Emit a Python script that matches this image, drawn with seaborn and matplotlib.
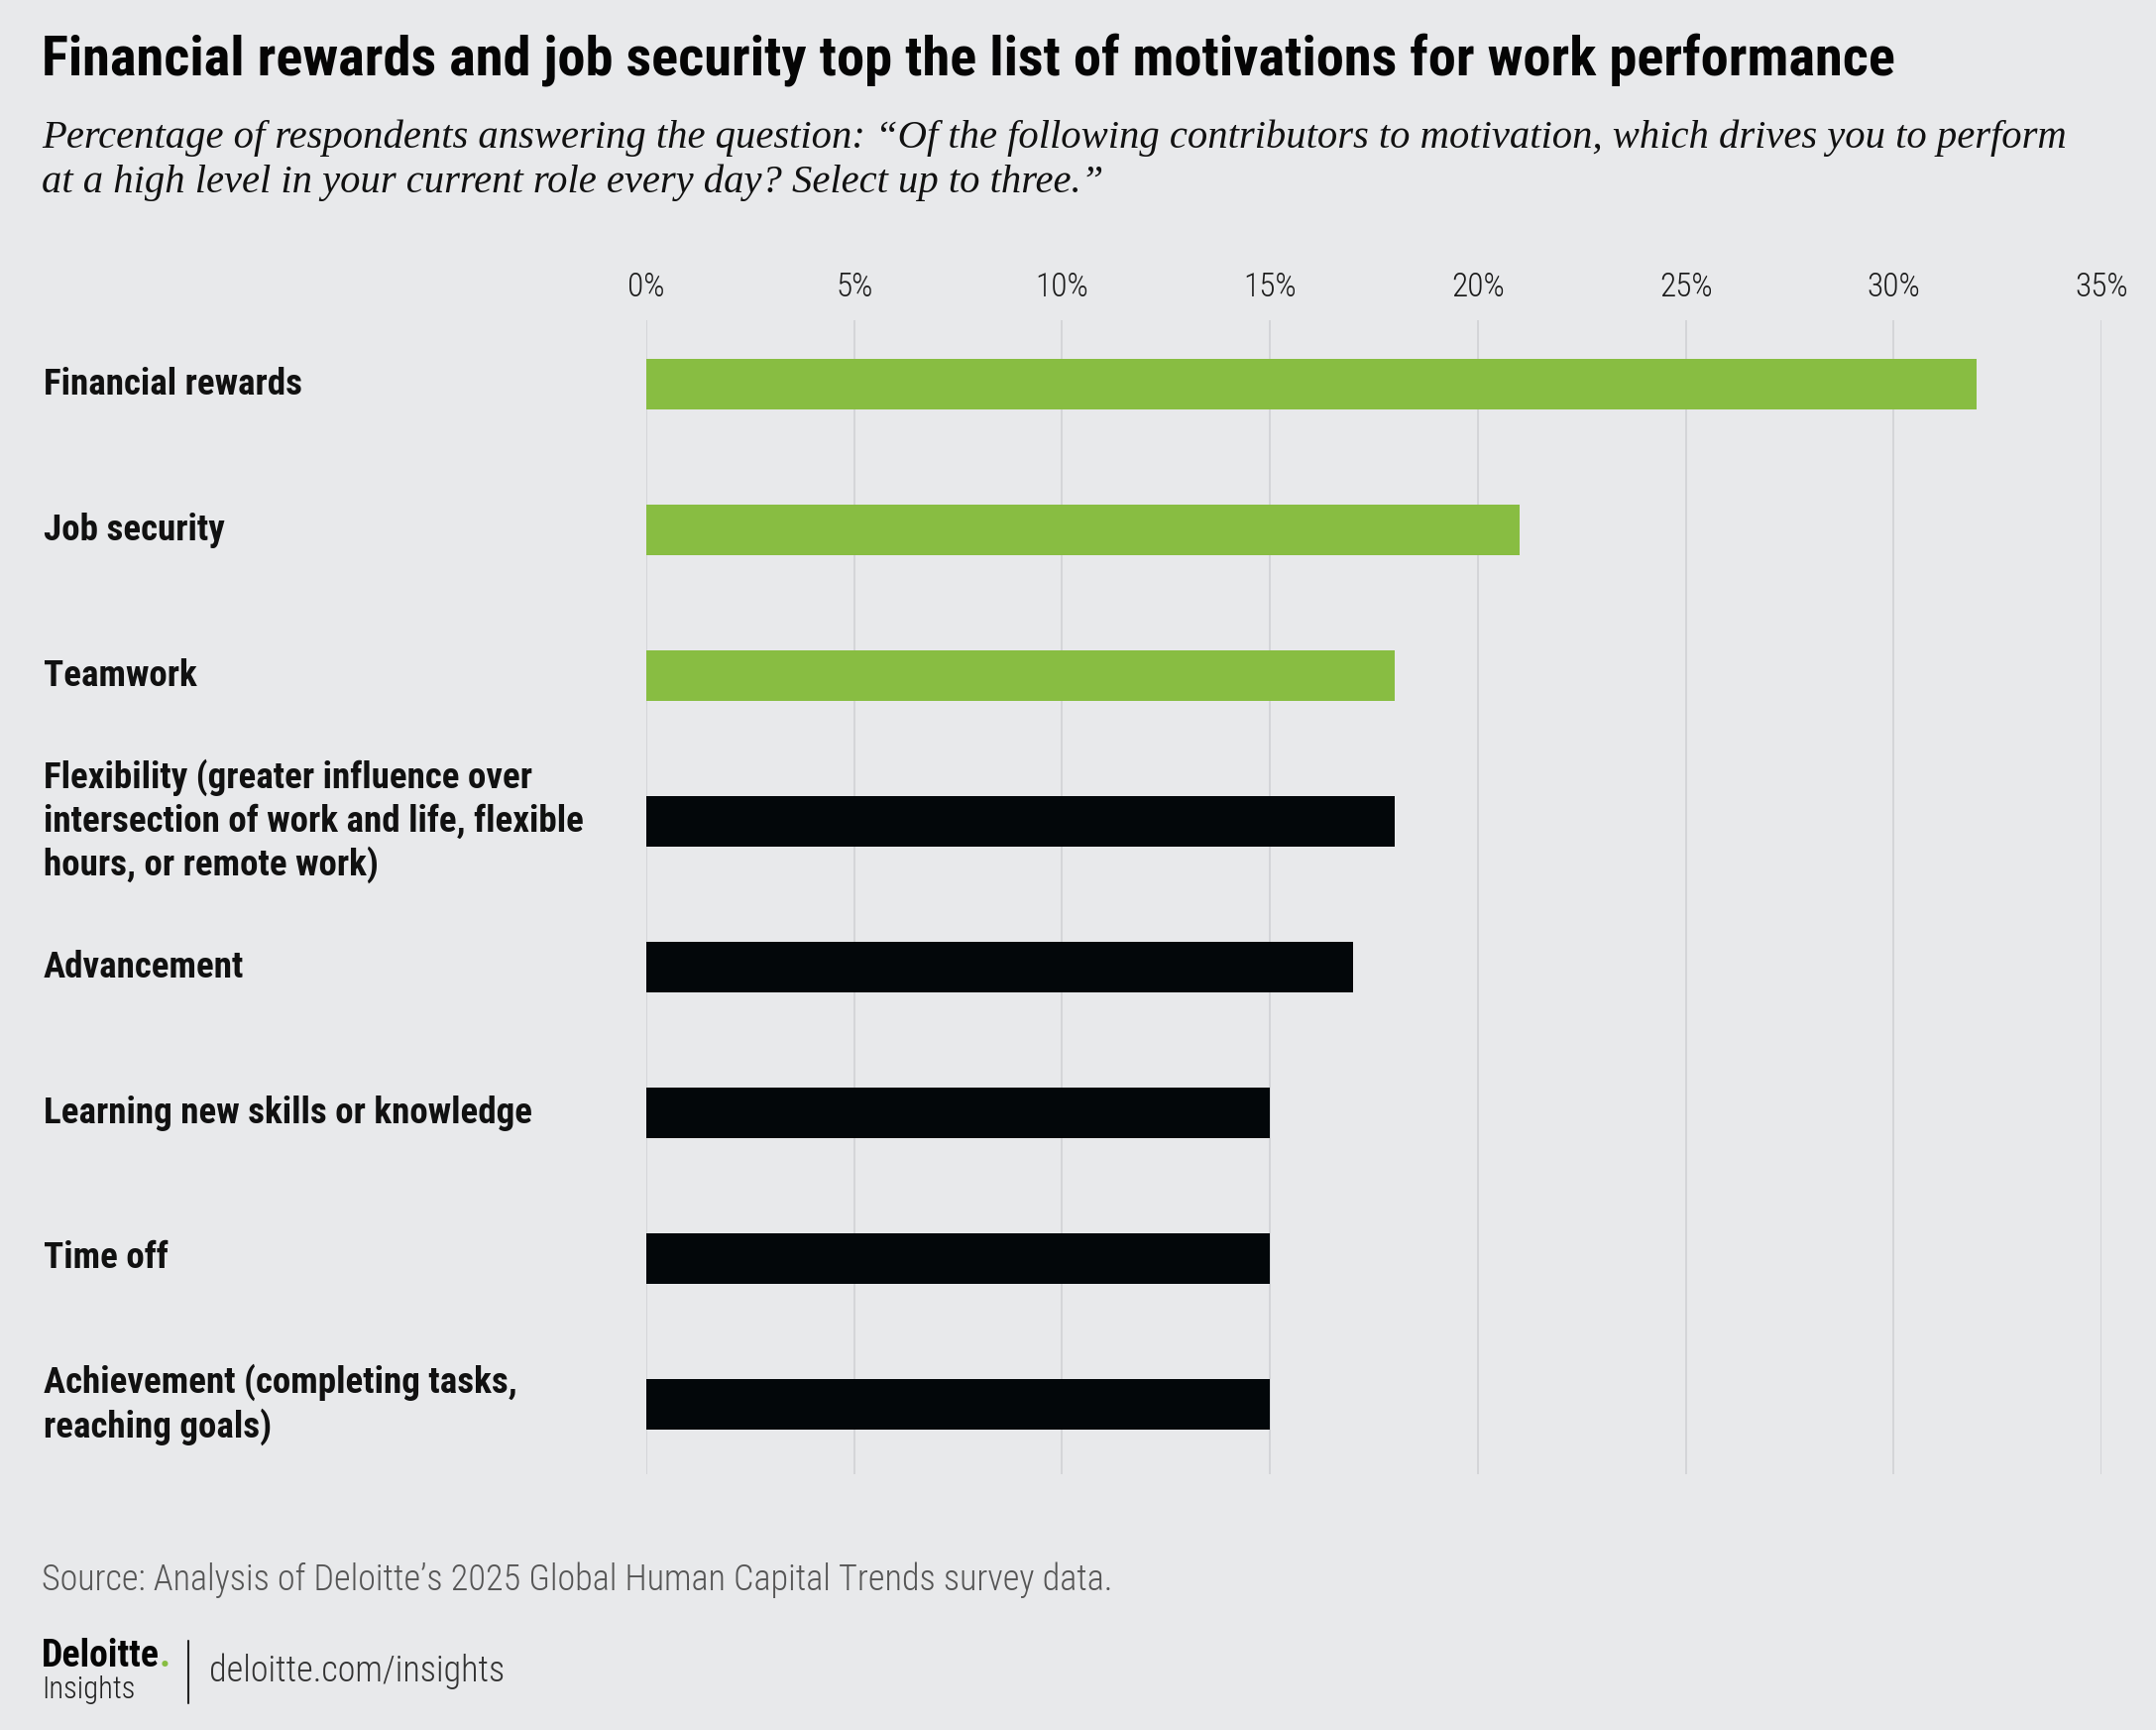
import matplotlib
matplotlib.use("Agg")
import matplotlib.pyplot as plt
import matplotlib.transforms as mtransforms
from matplotlib import font_manager
import pandas as pd
import seaborn as sns

categories = [
    "Financial rewards",
    "Job security",
    "Teamwork",
    "Flexibility (greater influence over intersection of work and life, flexible hours, or remote work)",
    "Advancement",
    "Learning new skills or knowledge",
    "Time off",
    "Achievement (completing tasks, reaching goals)",
]
label_lines = [
    "Financial rewards",
    "Job security",
    "Teamwork",
    "Flexibility (greater influence over\nintersection of work and life, flexible\nhours, or remote work)",
    "Advancement",
    "Learning new skills or knowledge",
    "Time off",
    "Achievement (completing tasks,\nreaching goals)",
]
values = [32, 21, 18, 18, 17, 15, 15, 15]
highlight = [True, True, True, False, False, False, False, False]
x_ticks = [0, 5, 10, 15, 20, 25, 30, 35]

title = "Financial rewards and job security top the list of motivations for work performance"
subtitle = [
    "Percentage of respondents answering the question: \u201cOf the following contributors to motivation, which drives you to perform",
    "at a high level in your current role every day? Select up to three.\u201d",
]
source = "Source: Analysis of Deloitte\u2019s 2025 Global Human Capital Trends survey data."

GREEN = "#88bd42"
BLACK = "#03070a"
BG = "#e8e9eb"
GRID = "#d4d5d8"

sns.set_style("white")

names = {f.name for f in font_manager.fontManager.ttflist}
candidates = ["Roboto Condensed", "Barlow Condensed", "Fira Sans Condensed",
              "IBM Plex Sans Condensed", "Archivo Narrow", "PT Sans Narrow",
              "Liberation Sans Narrow", "Open Sans Condensed", "Asap Condensed",
              "Encode Sans Condensed", "Saira Condensed", "Roboto"]
narrow = next((c for c in candidates if c in names), "DejaVu Sans")
plt.rcParams["font.family"] = [narrow, "DejaVu Sans"]
SERIF = ["Liberation Serif", "DejaVu Serif"]

df = pd.DataFrame({"category": categories, "value": values})
palette = {c: (GREEN if h else BLACK) for c, h in zip(categories, highlight)}

fig = plt.figure(figsize=(21.75, 17.45), dpi=100, facecolor=BG)
ax = fig.add_axes([652 / 2175, 1 - 1487 / 1745, (2120 - 652) / 2175, (1487 - 323) / 1745])
ax.set_facecolor(BG)

sns.barplot(data=df, x="value", y="category", hue="category", palette=palette,
            legend=False, width=0.35, linewidth=0, saturation=1, ax=ax, zorder=3)

ax.set_xlim(0, 35)
ax.set_ylim(len(categories) - 1 + 0.48, -0.44)
ax.set_xticks(x_ticks)
ticklabels = ax.set_xticklabels([f"{t}%" for t in x_ticks], fontsize=24,
                                fontweight="light", color="#1a1a1a")
ax.xaxis.tick_top()
ax.tick_params(axis="x", length=0, pad=12)
ax.set_yticks([])
ax.set_xlabel("")
ax.set_ylabel("")
for s in ax.spines.values():
    s.set_visible(False)
for t in x_ticks:
    ax.axvline(t, color=GRID, lw=1.4, zorder=1)

trans = mtransforms.blended_transform_factory(fig.transFigure, ax.transData)
labels = []
for i, lab in enumerate(label_lines):
    labels.append(ax.text(44 / 2175, i, lab, transform=trans, ha="left", va="center",
                          fontsize=23, fontweight="bold", color="#111111", linespacing=1.25))

t_title = fig.text(42 / 2175, 1 - 60 / 1745, title, ha="left", va="center",
                   fontsize=31, fontweight="black", color="#050505")
t_sub1 = fig.text(42 / 2175, 1 - 139 / 1745, subtitle[0], ha="left", va="center",
                  fontsize=27, style="italic", color="#111111", family=SERIF)
t_sub2 = fig.text(42 / 2175, 1 - 184 / 1745, subtitle[1], ha="left", va="center",
                  fontsize=27, style="italic", color="#111111", family=SERIF)
t_src = fig.text(42 / 2175, 1 - 1594 / 1745, source, ha="left", va="center",
                 fontsize=23, fontweight="light", color="#555555")

dl = fig.text(42 / 2175, 1 - 1681 / 1745, "Deloitte", ha="left", va="baseline",
              fontsize=21, fontweight="bold", color="#050505")
dot = ax.annotate(".", xy=(1.0, 1 - 1681 / 1745), xycoords=(dl, "figure fraction"),
                  ha="left", va="baseline", fontsize=21, fontweight="bold", color=GREEN,
                  annotation_clip=False)
t_ins = fig.text(42 / 2175, 1 - 1713 / 1745, "Insights", ha="left", va="baseline",
                 fontsize=21, fontweight="light", color="#222222")
fig.add_artist(plt.Line2D([190 / 2175, 190 / 2175], [1 - 1655 / 1745, 1 - 1718 / 1745],
                          color="#222222", lw=1.5))
t_url = fig.text(211 / 2175, 1 - 1686 / 1745, "deloitte.com/insights", ha="left", va="center",
                 fontsize=25, fontweight="light", color="#333333")

# scale font sizes so text widths match the reference
renderer = fig.canvas.get_renderer()


def fit(artists, ref, target_px):
    w = ref.get_window_extent(renderer).width
    size = ref.get_fontsize() * target_px / w
    for a in artists:
        a.set_fontsize(size)
    return size


fit([t_title], t_title, 1867)
fit([t_sub1, t_sub2], t_sub1, 2043)
fit([t_src], t_src, 1082)
fit(labels, labels[5], 494)
fit(list(ticklabels), ticklabels[7], 60)
s = fit([dl], dl, 119)
dot.set_fontsize(s)
fit([t_ins], t_ins, 94)
fit([t_url], t_url, 299)

fig.savefig("out.png", dpi=100, facecolor=BG)
